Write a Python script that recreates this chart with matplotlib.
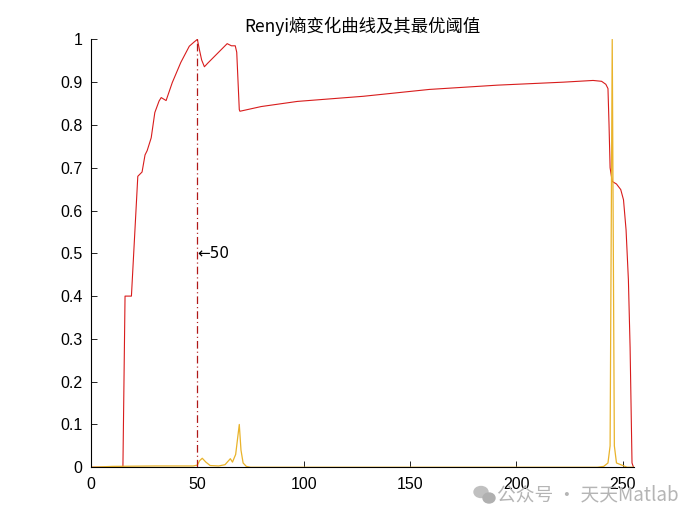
import matplotlib
matplotlib.use("Agg")
import matplotlib.pyplot as plt
from matplotlib.patches import Ellipse

# Renyi entropy curve (gray level, normalised entropy)
entropy_x = [0, 15, 16, 19, 22, 24, 25.4, 26.4, 28.3, 30, 32, 33, 35.3,
             38.2, 42.2, 46.2, 48.5, 50, 51, 52, 53.3, 55, 58, 61, 64, 66,
             67.8, 68.5, 69.7, 70, 80, 97, 128, 159, 191, 222, 236, 240,
             242, 243, 243.5, 244, 245, 247, 249, 250.3, 251.5, 252.6,
             253.4, 254.3, 255]
entropy_y = [0, 0, 0.40, 0.40, 0.68, 0.69, 0.73, 0.74, 0.77, 0.829, 0.856,
             0.864, 0.857, 0.899, 0.946, 0.984, 0.994, 1.0, 0.975, 0.952,
             0.936, 0.945, 0.96, 0.975, 0.99, 0.985, 0.985, 0.97, 0.836,
             0.832, 0.843, 0.855, 0.867, 0.883, 0.893, 0.90, 0.904, 0.902,
             0.895, 0.885, 0.80, 0.70, 0.668, 0.662, 0.649, 0.625, 0.555,
             0.438, 0.28, 0.01, 0]

# normalised gray histogram
hist_x = [0, 10, 30, 48, 50, 51, 52.3, 54, 56, 60, 63, 65.5, 66.5, 68,
          69.7, 70.5, 71.5, 73, 75, 238, 241, 243, 244, 245, 246, 247, 249,
          250, 252, 255]
hist_y = [0, 0.002, 0.003, 0.003, 0.005, 0.015, 0.021, 0.012, 0.004, 0.003,
          0.006, 0.02, 0.012, 0.03, 0.10, 0.04, 0.01, 0.002, 0, 0, 0.002,
          0.01, 0.05, 1.0, 0.05, 0.01, 0.006, 0.004, 0, 0]

best_t = 50
xticks = [0, 50, 100, 150, 200, 250]
yticks = [0, 0.1, 0.2, 0.3, 0.4, 0.5, 0.6, 0.7, 0.8, 0.9, 1]
ytick_labels = ["0", "0.1", "0.2", "0.3", "0.4", "0.5", "0.6", "0.7", "0.8", "0.9", "1"]

plt.rcParams["font.family"] = ["Liberation Sans", "DejaVu Sans"]
plt.rcParams["lines.scale_dashes"] = False

fig = plt.figure(figsize=(7, 5.25), dpi=100)
ax = fig.add_axes([0.13, 0.11, 0.775, 0.815])

ax.plot(entropy_x, entropy_y, color="#d81c1c", linewidth=0.8)
ax.plot(hist_x, hist_y, color="#E9B32A", linewidth=0.9)
ax.plot([best_t, best_t], [0, 1], color="#b01818", linewidth=0.9,
        linestyle=(0, (5.5, 2.2, 0.8, 2.2)))
ax.text(best_t, 0.5, "\u2190" + str(best_t), fontsize=11, va="center", ha="left",
        family=["DejaVu Sans"])

ax.set_xlim(0, 255)
ax.set_ylim(0, 1)
ax.set_xticks(xticks)
ax.set_yticks(yticks)
ax.set_yticklabels(ytick_labels)
ax.tick_params(direction="in", length=4, width=0.6, labelsize=11.5)
ax.tick_params(axis="x", pad=7)
ax.tick_params(axis="y", pad=6)
for side in ("top", "right"):
    ax.spines[side].set_visible(False)
for side in ("left", "bottom"):
    ax.spines[side].set_linewidth(0.8)

ax.set_title("Renyi熵变化曲线及其最优阈值", fontsize=12.5,
             family=["Noto Sans CJK SC", "DejaVu Sans"], pad=5)

# watermark
fig.text(497 / 700, 1 - 495 / 525, "公众号 · 天天Matlab", fontsize=13.5,
         color="#b5b5b5", ha="left", va="center",
         family=["Noto Sans CJK SC", "DejaVu Sans"])
fig.patches.append(Ellipse((481 / 700, 1 - 492 / 525), 14 / 700, 11 / 525,
                           transform=fig.transFigure, color="#c0c0c0"))
fig.patches.append(Ellipse((489 / 700, 1 - 498 / 525), 12 / 700, 10 / 525,
                           transform=fig.transFigure, color="#b0b0b0"))

fig.savefig("out.png", dpi=100)
